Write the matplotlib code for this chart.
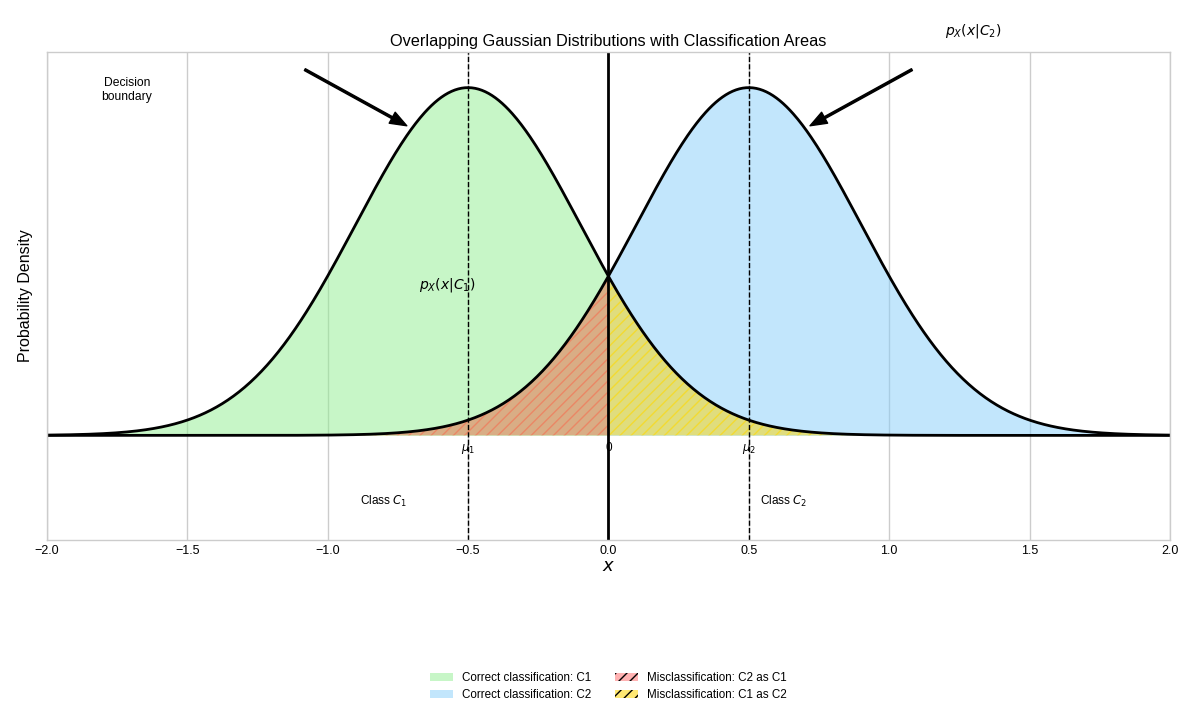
import numpy as np
import matplotlib
matplotlib.use("Agg")
import matplotlib.pyplot as plt
from matplotlib.patches import Patch

plt.rcParams['font.family'] = ['Liberation Sans', 'DejaVu Sans']

# Model parameters
mu1, mu2 = -0.5, 0.5
sigma = 0.4
x_range = [-2.0, 2.0]
y_range = [-0.3, 1.1]
xticks = [-2.0, -1.5, -1.0, -0.5, 0.0, 0.5, 1.0, 1.5, 2.0]

legend_labels = ["Correct classification: C1", "Correct classification: C2",
                 "Misclassification: C2 as C1", "Misclassification: C1 as C2"]

x = np.linspace(x_range[0], x_range[1], 1000)
p1 = np.exp(-(x - mu1) ** 2 / (2 * sigma ** 2)) / (sigma * np.sqrt(2 * np.pi))
p2 = np.exp(-(x - mu2) ** 2 / (2 * sigma ** 2)) / (sigma * np.sqrt(2 * np.pi))

fig = plt.figure(figsize=(12, 7.2), dpi=100)
ax = fig.add_axes([0.039, 0.25, 0.936, 0.678])
ax.set_facecolor('white')

# fills
ax.fill_between(x, 0, p1, where=(x <= 0), color='lightgreen', alpha=0.5, linewidth=0)
ax.fill_between(x, 0, p2, where=(x >= 0), color='lightskyblue', alpha=0.5, linewidth=0)
ax.fill_between(x, 0, p2, where=(x <= 0), facecolor=(1, 0.1, 0.0, 0.33),
                edgecolor=(1, 0.35, 0.25, 0.45), hatch='///', linewidth=0)
ax.fill_between(x, 0, p1, where=(x >= 0), facecolor=(1, 0.84, 0.0, 0.5),
                edgecolor=(1, 0.85, 0.0, 0.6), hatch='///', linewidth=0)

ax.plot(x, p1, color='black', linewidth=2)
ax.plot(x, p2, color='black', linewidth=2)

ax.axvline(0, color='black', linewidth=2)
ax.axvline(mu1, color='black', linestyle='--', linewidth=1)
ax.axvline(mu2, color='black', linestyle='--', linewidth=1)

ax.set_xlim(x_range)
ax.set_ylim(y_range)
ax.set_xticks(xticks)
ax.set_yticks([])
ax.grid(True, axis='x', color='#cccccc', linewidth=1)
ax.set_axisbelow(True)
for s in ax.spines.values():
    s.set_color('#cccccc')
    s.set_linewidth(1)
ax.tick_params(axis='x', length=0, labelsize=9, pad=3.5)

ax.set_title("Overlapping Gaussian Distributions with Classification Areas", fontsize=11.7, pad=4)
ax.set_xlabel("$x$", fontsize=13, labelpad=1)
ax.set_ylabel("Probability Density", fontsize=11.5, labelpad=10)

# annotations
ax.text(mu1, -0.04, r"$\mu_1$", ha='center', va='center', fontsize=8.5)
ax.text(0, -0.035, "0", ha='center', va='center', fontsize=8.5)
ax.text(mu2, -0.04, r"$\mu_2$", ha='center', va='center', fontsize=8.5)
ax.text(-0.80, -0.19, r"Class $C_1$", ha='center', va='center', fontsize=8.5)
ax.text(0.625, -0.19, r"Class $C_2$", ha='center', va='center', fontsize=8.5)
ax.text(-0.575, 0.43, r"$p_X(x|C_1)$", ha='center', va='center', fontsize=10)
ax.text(1.30, 1.16, r"$p_X(x|C_2)$", ha='center', va='center', fontsize=10)
ax.text(-1.715, 0.99, "Decision\nboundary", ha='center', va='center', fontsize=8.7,
        linespacing=1.25)

arrow = dict(facecolor='black', edgecolor='black', width=1.5, headwidth=9, headlength=12, shrink=0)
ax.annotate("", xy=(-0.718, 0.888), xytext=(-1.081, 1.049), arrowprops=arrow)
ax.annotate("", xy=(0.718, 0.888), xytext=(1.081, 1.049), arrowprops=arrow)

handles = [
    Patch(facecolor='lightgreen', alpha=0.5, edgecolor='none'),
    Patch(facecolor='lightskyblue', alpha=0.5, edgecolor='none'),
    Patch(facecolor=(1, 0.0, 0.0, 0.3), edgecolor='black', linewidth=0, hatch='///'),
    Patch(facecolor=(1, 0.84, 0.0, 0.55), edgecolor='black', linewidth=0, hatch='///'),
]
fig.legend(handles, legend_labels, loc='center', bbox_to_anchor=(0.507, 0.0465), ncol=2,
           frameon=False, fontsize=8.4, handlelength=2.0, handletextpad=0.8,
           columnspacing=2.0, labelspacing=0.45)

fig.savefig("out.png", dpi=100)
